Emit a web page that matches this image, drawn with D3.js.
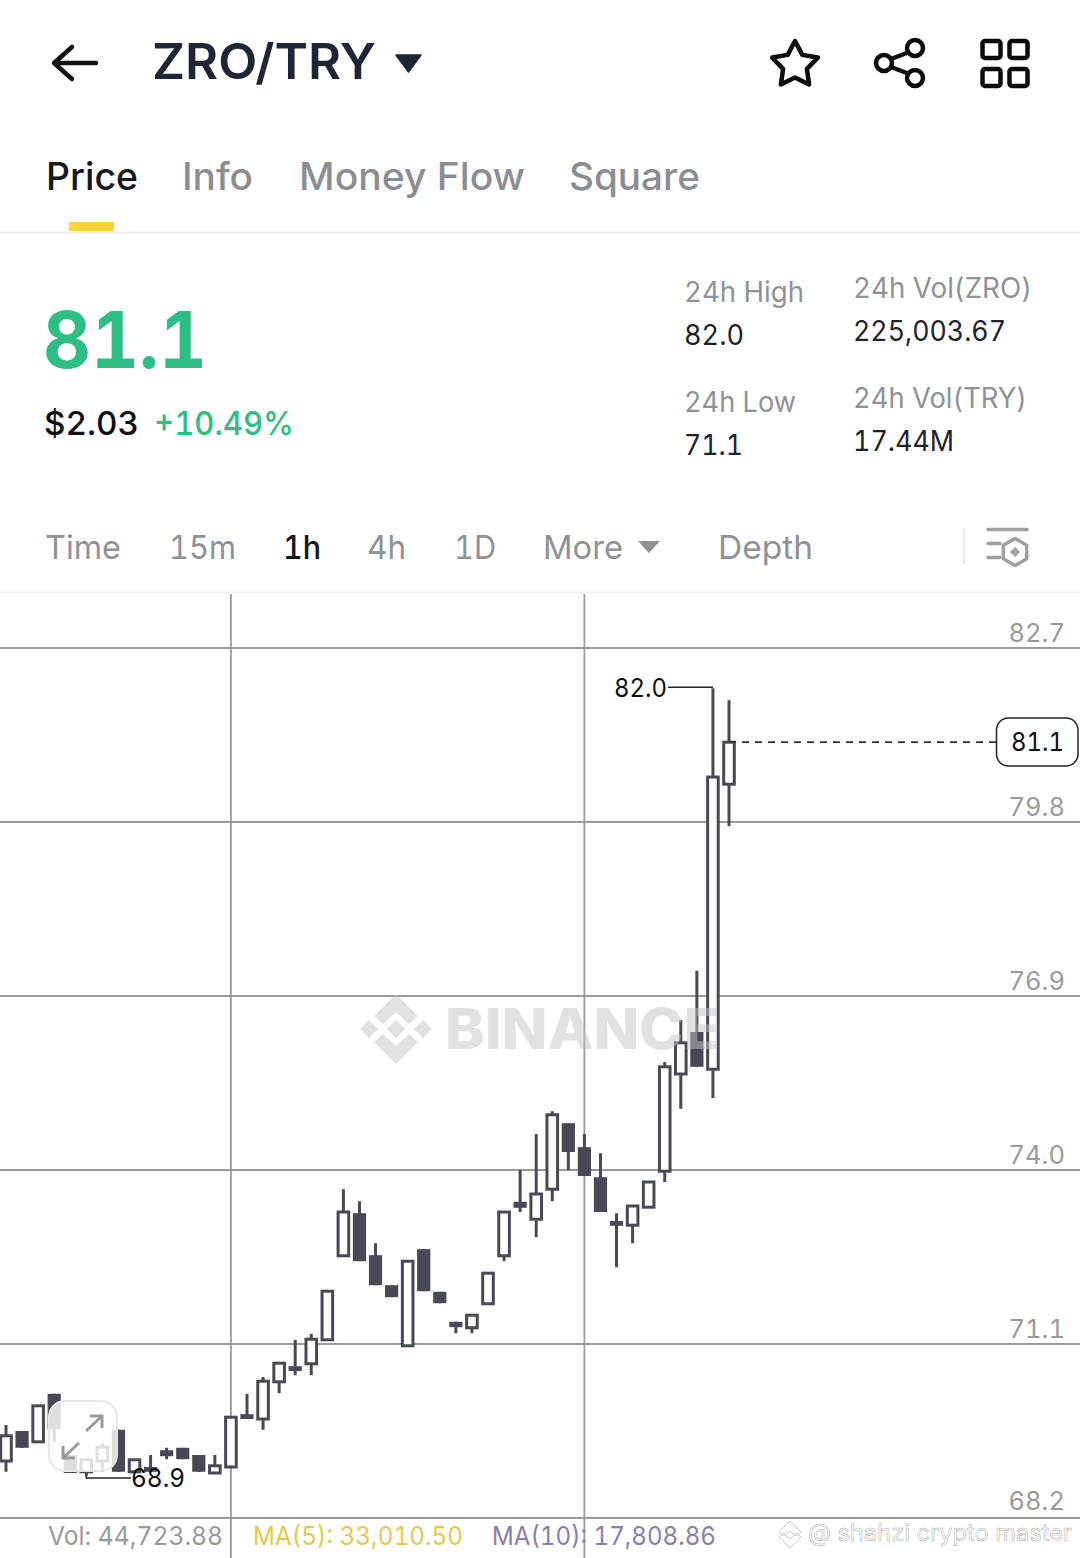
<!DOCTYPE html>
<html><head><meta charset="utf-8">
<script src="https://cdn.jsdelivr.net/npm/d3@7/dist/d3.min.js"></script>
<style>html,body{margin:0;padding:0;background:#fff}svg{display:block;font-family:Inter,"Noto Sans",sans-serif;font-variant-numeric:tabular-nums}</style>
</head><body><svg id="c" width="1080" height="1558"></svg>
<script>
const opens =[69.15,69.65,69.47,70.27,69.25,68.97,69.15,69.67,68.97,69.05,69.33,69.37,69.25,68.95,69.05,69.93,69.85,70.47,70.73,70.77,71.17,72.57,73.28,72.58,72.08,71.07,72.68,71.97,71.47,71.37,71.77,72.57,73.47,73.18,73.68,74.78,74.38,73.88,73.15,73.08,73.38,73.98,75.60,76.30,75.68,80.43];
const closes=[69.57,69.37,70.07,69.68,68.95,69.17,69.38,68.97,69.17,68.97,69.23,69.18,68.97,69.07,69.88,69.85,70.48,70.78,70.65,71.18,71.98,73.30,72.48,72.08,71.88,72.48,71.98,71.78,71.38,71.58,72.28,73.30,73.37,73.60,74.92,74.30,73.90,73.30,73.07,73.40,73.80,75.72,76.12,75.72,80.55,81.13];
const highs =[69.75,69.65,70.07,70.27,69.25,69.17,69.45,69.67,69.17,69.25,69.37,69.37,69.25,69.25,69.88,70.27,70.55,70.78,71.17,71.27,71.98,73.68,73.48,72.78,72.08,72.48,72.68,71.97,71.47,71.58,72.28,73.30,74.00,74.60,74.98,74.78,74.60,74.28,73.28,73.40,73.80,75.80,76.50,77.32,82.03,81.83];
const lows  =[68.97,69.37,69.47,69.47,68.95,68.90,68.97,68.97,68.97,68.97,69.18,69.18,68.97,68.95,69.05,69.85,69.67,70.28,70.58,70.58,71.17,72.57,72.48,72.08,71.88,71.07,71.98,71.78,71.28,71.28,71.77,72.48,73.30,72.88,73.48,74.00,73.90,73.30,72.38,72.78,73.38,73.80,75.02,75.72,75.20,79.73];
const priceTicks=[82.7,79.8,76.9,74.0,71.1,68.2];
const tabs=["Price","Info","Money Flow","Square"];
const intervals=["Time","15m","1h","4h","1D","More","Depth"];
const verticalGridIndex=[14,36];
const currentPrice=81.13, maxPrice=82.03, minPrice=68.90;

const svg=d3.select("#c");
const y=d3.scaleLinear().domain([68.2,82.7]).range([1518,648]);
const x=d3.scaleLinear().domain([0,45]).range([6,729]);
const dark="#474a54", gridC="#9a9a9a", muted="#8e9297";
function T(s,px,py,size,fill,w,opt={}){const t=svg.append("text").attr("x",px).attr("y",py).attr("font-size",size).attr("fill",fill).text(s);
 if(w){t.attr("textLength",w).attr("lengthAdjust","spacingAndGlyphs");}
 for(const k in opt)t.attr(k,opt[k]);return t;}

/* header */
svg.append("path").attr("d","M96 63H55M72 47L54 63L72 79").attr("fill","none").attr("stroke","#111").attr("stroke-width",4.5).attr("stroke-linecap","round").attr("stroke-linejoin","round");
T("ZRO/TRY",152,79,49,"#1e2635",224,{"font-weight":600});
svg.append("path").attr("d","M396 55H421L408.5 72Z").attr("fill","#1e2635").attr("stroke","#1e2635").attr("stroke-width",1.5).attr("stroke-linejoin","round");
const star=d3.range(10).map(i=>{const r=i%2?12.5:24,a=-Math.PI/2+i*Math.PI/5;return [795+r*Math.cos(a),65+r*Math.sin(a)]});
svg.append("path").attr("d",d3.line()(star)+"Z").attr("fill","none").attr("stroke","#0b0b0b").attr("stroke-width",4.5).attr("stroke-linejoin","round");
svg.append("path").attr("d","M891 59L908 52.5M891 67L908 73.5").attr("stroke","#0b0b0b").attr("stroke-width",4.5);
[[884,63],[915,48],[915,78]].forEach(c=>svg.append("circle").attr("cx",c[0]).attr("cy",c[1]).attr("r",8).attr("fill","#fff").attr("stroke","#0b0b0b").attr("stroke-width",4.5));
[[983,41],[1010,41],[983,69],[1010,69]].forEach(c=>svg.append("rect").attr("x",c[0]-0.5).attr("y",c[1]).attr("width",18).attr("height",17).attr("rx",2.5).attr("fill","none").attr("stroke","#0b0b0b").attr("stroke-width",4.5));

/* tabs */
const tabX=[46,182,299,569], tabW=[92,71,226,131];
tabs.forEach((t,i)=>T(t,tabX[i],190,37.5,i?"#8a8e94":"#14171c",tabW[i],{"font-weight":500}));
svg.append("rect").attr("x",69).attr("y",222).attr("width",45).attr("height",9).attr("fill","#fcd535");
svg.append("rect").attr("x",0).attr("y",231.5).attr("width",1080).attr("height",2).attr("fill","#eeeeee");

/* price block */
T("81.1",43,368,78,"#2ebd85",164,{"font-weight":700});
T("$2.03",44,435,33,"#0c0e12",95,{"font-weight":500});
T("+10.49%",154,435,33,"#2ebd85",140,{"font-weight":500});
T("24h High",684,302,28,muted,120);
T("82.0",684,345,28,"#1e2329",60);
T("24h Low",684,412,28,muted,112);
T("71.1",684,455,28,"#1e2329",59);
T("24h Vol(ZRO)",853,298,28,muted,179);
T("225,003.67",853,341,28,"#1e2329",153);
T("24h Vol(TRY)",853,408,28,muted,174);
T("17.44M",853,451,28,"#1e2329",101);

/* interval row */
const intX=[45,169,283,367,454,543,718], intW=[76,67,38,39,42,80,95];
intervals.forEach((t,i)=>T(t,intX[i],559,33,t==="1h"?"#14171c":muted,intW[i],{"font-weight":t==="1h"?500:400}));
svg.append("path").attr("d","M638 541H660L649 553Z").attr("fill",muted);
svg.append("rect").attr("x",963).attr("y",528).attr("width",2).attr("height",36).attr("fill","#e8e8e8");
svg.append("path").attr("d","M988 529.5H1027M988 543.5H1000M988 557.5H1000").attr("stroke","#a0a0a0").attr("stroke-width",3.5).attr("stroke-linecap","round");
const hex=d3.range(6).map(i=>{const a=-Math.PI/2+i*Math.PI/3;return [1015+13.5*Math.cos(a),552+13.5*Math.sin(a)]});
svg.append("path").attr("d",d3.line()(hex)+"Z").attr("fill","none").attr("stroke","#a0a0a0").attr("stroke-width",3.5).attr("stroke-linejoin","round");
svg.append("path").attr("d","M1015 547L1020 552L1015 557L1010 552Z").attr("fill","#a0a0a0");
svg.append("rect").attr("x",0).attr("y",591.5).attr("width",1080).attr("height",2).attr("fill","#f1f1f1");

/* grid */
svg.selectAll(".h").data(priceTicks).join("line").attr("x1",0).attr("x2",1080).attr("y1",d=>y(d)).attr("y2",d=>y(d)).attr("stroke",gridC).attr("stroke-width",1.8);
svg.selectAll(".v").data(verticalGridIndex).join("line").attr("x1",d=>x(d)).attr("x2",d=>x(d)).attr("y1",594).attr("y2",1558).attr("stroke",gridC).attr("stroke-width",1.8);
svg.selectAll(".t").data(priceTicks).join("text").attr("x",1065).attr("y",(d,i)=>y(d)-(i===5?8:6)).attr("text-anchor","end").attr("font-size",25.5).attr("fill",gridC).text(d=>d.toFixed(1));

/* candles */
const idx=d3.range(opens.length), bw=12;
svg.selectAll(".w").data(idx).join("line").attr("x1",i=>x(i)).attr("x2",i=>x(i)).attr("y1",i=>y(highs[i])).attr("y2",i=>y(lows[i])).attr("stroke",dark).attr("stroke-width",3);
svg.selectAll(".b").data(idx).join("rect")
 .attr("x",i=>x(i)-(closes[i]>=opens[i]?bw/2-0.7:bw/2+0.6))
 .attr("width",i=>closes[i]>=opens[i]?bw-1.4:bw+1.2)
 .attr("y",i=>y(Math.max(opens[i],closes[i])))
 .attr("height",i=>Math.abs(y(opens[i])-y(closes[i])))
 .attr("fill",i=>closes[i]>=opens[i]?"#fff":dark)
 .attr("stroke",i=>closes[i]>=opens[i]?dark:"none")
 .attr("stroke-width",3);

/* annotations */
const li=closes.length-1, hi=d3.range(highs.length).find(i=>highs[i]===maxPrice), lo=d3.range(lows.length).find(i=>lows[i]===minPrice);
svg.append("path").attr("d",`M${x(hi)} ${y(maxPrice)-1}H668`).attr("fill","none").attr("stroke","#222").attr("stroke-width",1.6);
T("82.0",614,697,26,"#0c0e12",53);
svg.append("path").attr("d",`M${x(lo)} ${y(minPrice)}V1478H131`).attr("fill","none").attr("stroke","#222").attr("stroke-width",1.6);
T("68.9",131,1487,26,"#0c0e12",54);
svg.append("line").attr("x1",x(li)).attr("x2",996).attr("y1",y(currentPrice)).attr("y2",y(currentPrice)).attr("stroke","#333").attr("stroke-width",1.8).attr("stroke-dasharray","7 6");
svg.append("rect").attr("x",996.5).attr("y",718).attr("width",81.5).attr("height",48).attr("rx",12).attr("fill","#fff").attr("stroke","#222").attr("stroke-width",1.5);
T("81.1",1011,751,26,"#0c0e12",53);

/* footer */
T("Vol: 44,723.88",48,1545,26,"#9a9a9a",175);
T("MA(5): 33,010.50",253,1545,26,"#e8c84c",210);
T("MA(10): 17,808.86",492,1545,26,"#8c7dab",224);

/* zoom button overlay */
svg.append("rect").attr("x",49).attr("y",1401).attr("width",68).attr("height",70).attr("rx",16).attr("fill","#fff").attr("fill-opacity",.82).attr("stroke","#e6e6e6").attr("stroke-width",2);
svg.append("path").attr("d","M86 1431L102 1416M90 1416H102V1428M79 1443L63 1458M63 1446V1458H75").attr("fill","none").attr("stroke","#9a9a9a").attr("stroke-width",3);

/* Binance watermark */
const wm=svg.append("g").attr("fill","#c4c4c4").attr("fill-opacity",.5);
wm.append("path").attr("d","M396 994L418 1016L409 1024L396 1012L383 1024L374 1016Z M396 1064L418 1042L409 1034L396 1046L383 1034L374 1042Z M396 1020L405 1029L396 1038L387 1029Z M369 1020L378 1029L369 1038L360 1029Z M423 1020L432 1029L423 1038L414 1029Z");
wm.append("text").attr("x",445).attr("y",1049).attr("font-size",56).attr("font-weight",800).attr("textLength",275).attr("lengthAdjust","spacingAndGlyphs").text("BINANCE");

/* author watermark */
const am=svg.append("g");
am.append("path").attr("d","M790 1521L801 1532L796 1536L790 1531L784 1536L779 1532Z M790 1548L801 1537L796 1533L790 1539L784 1533L779 1537Z").attr("fill","#fff").attr("stroke","#c8c8c8").attr("stroke-width",1);
am.append("text").attr("x",808).attr("y",1541).attr("font-size",24).attr("fill","#fff").attr("stroke","#adadad").attr("stroke-width",.55).attr("textLength",264).attr("lengthAdjust","spacingAndGlyphs").text("@ shahzi crypto master");
</script></body></html>
